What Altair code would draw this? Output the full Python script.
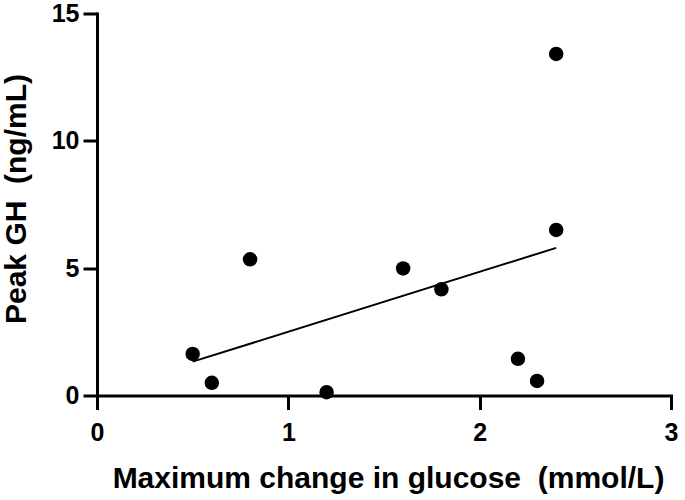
import altair as alt
import pandas as pd

# Maximum change in glucose (mmol/L) and peak GH (ng/mL) per subject
glucose_change = [0.5, 0.6, 0.8, 1.2, 1.6, 1.8, 2.2, 2.3, 2.4, 2.4]
peak_gh = [1.63, 0.50, 5.35, 0.13, 4.99, 4.17, 1.44, 0.57, 6.50, 13.41]
x_ticks = [0, 1, 2, 3]
y_ticks = [0, 5, 10, 15]

df = pd.DataFrame({"glucose": glucose_change, "gh": peak_gh})

FONT = "Liberation Sans"

x_enc = alt.X(
    "glucose:Q",
    scale=alt.Scale(domain=[0, 3], nice=False, zero=False),
    axis=alt.Axis(
        values=x_ticks,
        format="d",
        title="Maximum change in glucose\u00a0 (mmol/L)",
        titleX=291,
        titleY=92,
        titleAlign="center",
        titleBaseline="alphabetic",
        labelPadding=11,
    ),
)
y_enc = alt.Y(
    "gh:Q",
    scale=alt.Scale(domain=[0, 15], nice=False),
    axis=alt.Axis(
        values=y_ticks,
        format="d",
        title="Peak GH\u00a0 (ng/mL)",
        titleAngle=270,
        titleX=-72,
        titleY=185,
        titleAlign="center",
        titleBaseline="alphabetic",
        labelPadding=4,
    ),
)

fit = (
    alt.Chart(df)
    .transform_regression("glucose", "gh", method="linear")
    .mark_line(color="black", strokeWidth=2)
    .encode(x=x_enc, y=y_enc)
)

points = (
    alt.Chart(df)
    .mark_circle(size=210, color="black", opacity=1)
    .encode(x=x_enc, y=y_enc)
)

chart = (
    alt.layer(fit, points)
    .properties(
        width=574,
        height=382,
        autosize=alt.AutoSizeParams(type="none"),
        padding={"left": 97, "top": 13.5, "right": 14, "bottom": 104.5},
    )
    .configure_view(stroke=None)
    .configure_axis(
        grid=False,
        domainColor="black",
        domainWidth=3,
        domainCap="square",
        tickColor="black",
        tickWidth=3,
        tickSize=14,
        labelFont=FONT,
        labelFontSize=25,
        labelFontWeight="bold",
        labelColor="black",
        labelFlush=False,
        labelOverlap=False,
        titleFont=FONT,
        titleFontSize=30,
        titleFontWeight="bold",
        titleColor="black",
    )
)

chart.save("out.html", embed_options={"renderer": "svg", "actions": False})
